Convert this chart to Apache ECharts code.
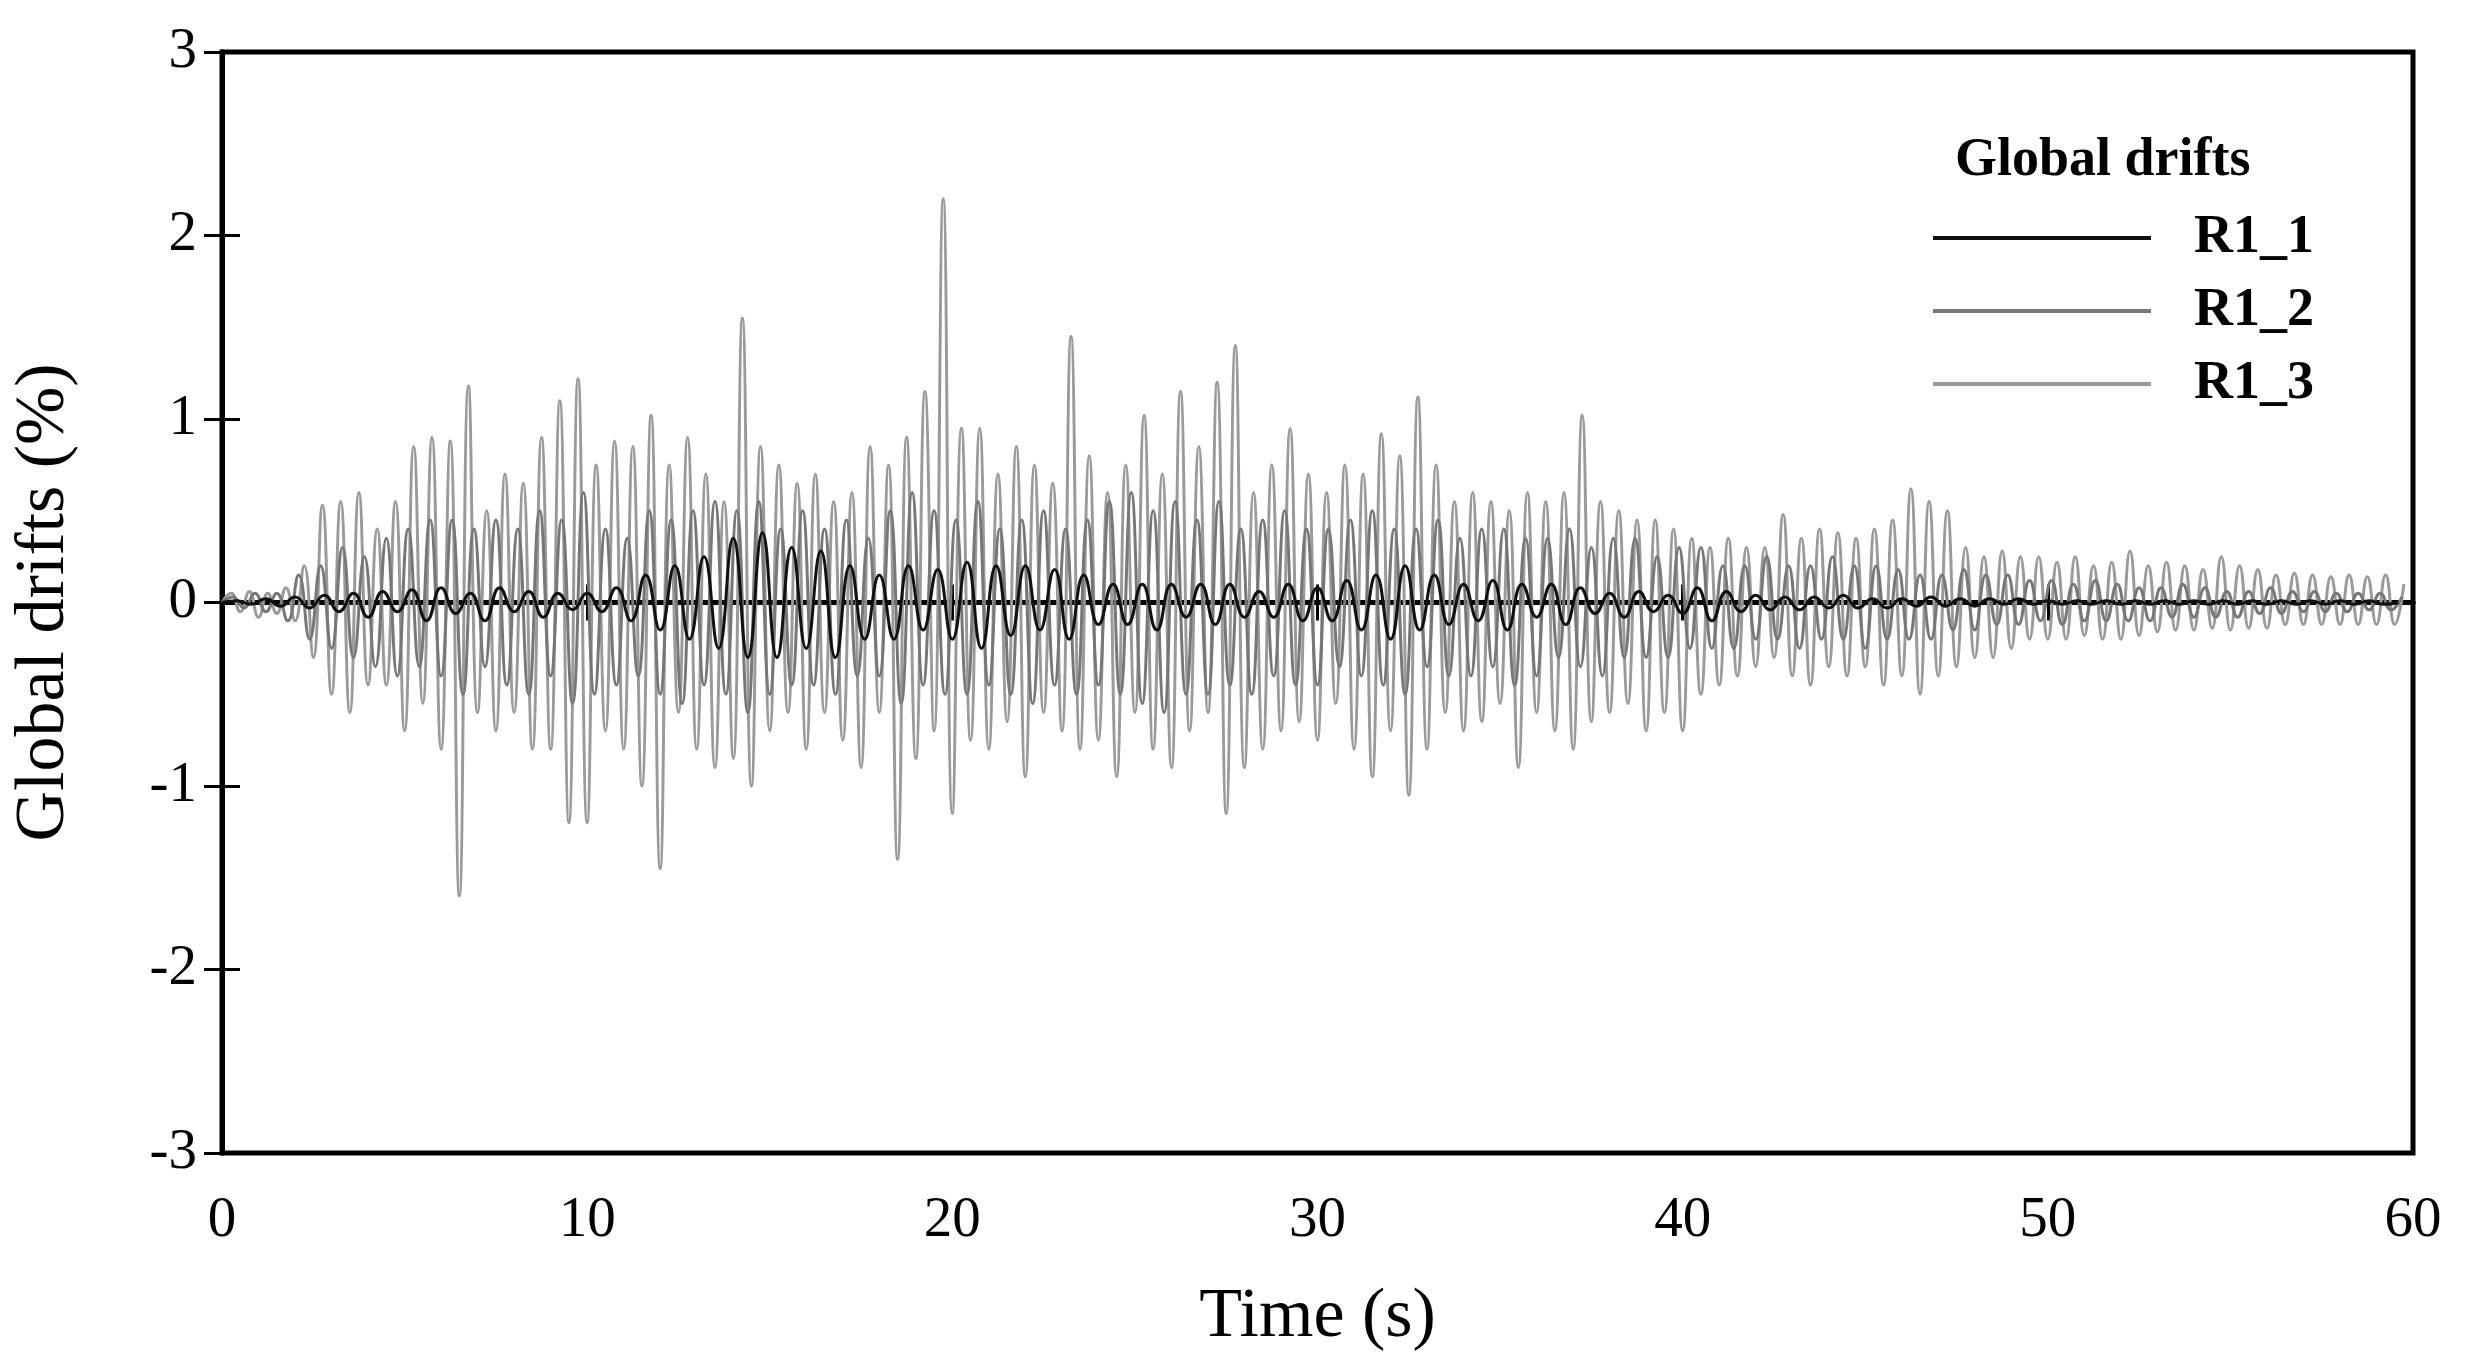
<!DOCTYPE html>
<html><head><meta charset="utf-8">
<script src="https://cdn.jsdelivr.net/npm/echarts@6/dist/echarts.min.js"></script>
<style>html,body{margin:0;padding:0;background:#fff}#c{width:2474px;height:1365px}</style>
</head><body><div id="c"></div>
<script>
const seriesNames = ['R1_1','R1_2','R1_3'];
const xTicks = [0,10,20,30,40,50,60];
const yTicks = [-3,-2,-1,0,1,2,3];
// sample spacing (s) of the read-off extremes
const dt1 = 0.4, dt2 = 0.3, dt3 = 0.25;
const r1_1 = [0,0.01,-0.01,0.02,-0.02,0.03,-0.03,0.04,-0.05,0.05,-0.08,0.06,-0.05,0.07,-0.1,0.08,-0.06,0.05,-0.1,0.08,-0.05,0.06,-0.08,0.05,-0.04,
0.05,-0.05,0.08,-0.1,0.15,-0.15,0.2,-0.2,0.25,-0.25,0.35,-0.3,0.38,-0.3,0.3,-0.25,0.28,-0.3,0.2,-0.2,0.15,-0.2,0.2,-0.15,0.18,
-0.2,0.22,-0.25,0.2,-0.18,0.2,-0.15,0.18,-0.2,0.15,-0.12,0.1,-0.12,0.1,-0.15,0.1,-0.08,0.1,-0.12,0.1,-0.08,0.06,-0.08,0.1,-0.1,
0.08,-0.1,0.12,-0.15,0.15,-0.2,0.2,-0.15,0.15,-0.12,0.1,-0.1,0.12,-0.15,0.1,-0.08,0.1,-0.12,0.08,-0.06,0.05,-0.08,0.06,-0.05,0.04,
-0.06,0.08,-0.1,0.06,-0.05,0.04,-0.04,0.03,-0.04,0.03,-0.03,0.04,-0.03,0.02,-0.03,0.02,-0.02,0.03,-0.02,0.02,-0.02,0.02,-0.01,0.02,-0.01,
0.01,-0.01,0.01,-0.01,0.01,-0.01,0.01,-0.01,0.01,-0.01,0.01,-0.01,0.01,-0.01,0.01,-0.01,0.01,-0.01,0.01,-0.01,0.01,-0.01,0.01,-0.01,0];
const r1_2 = [0,0.03,-0.03,0.05,-0.05,0.05,-0.1,0.15,-0.2,0.2,-0.25,0.3,-0.3,0.25,-0.35,0.35,-0.4,0.4,-0.35,0.45,
-0.4,0.45,-0.5,0.4,-0.35,0.45,-0.45,0.4,-0.5,0.5,-0.4,0.45,-0.55,0.6,-0.5,0.4,-0.45,0.35,-0.4,0.5,
-0.5,0.45,-0.55,0.5,-0.45,0.55,-0.5,0.5,-0.6,0.55,-0.5,0.4,-0.45,0.5,-0.45,0.4,-0.5,0.45,-0.4,0.35,
-0.4,0.5,-0.55,0.6,-0.45,0.5,-0.5,0.45,-0.5,0.55,-0.45,0.4,-0.5,0.45,-0.55,0.5,-0.45,0.4,-0.5,0.45,
-0.45,0.55,-0.5,0.6,-0.55,0.5,-0.6,0.55,-0.5,0.45,-0.5,0.55,-0.45,0.4,-0.5,0.45,-0.4,0.5,-0.45,0.4,
-0.45,0.4,-0.35,0.45,-0.4,0.5,-0.45,0.4,-0.5,0.4,-0.35,0.45,-0.4,0.35,-0.4,0.4,-0.35,0.4,-0.45,0.35,
-0.4,0.35,-0.3,0.4,-0.35,0.3,-0.4,0.35,-0.3,0.35,-0.3,0.25,-0.3,0.3,-0.25,0.3,-0.25,0.2,-0.25,0.2,
-0.2,0.25,-0.2,0.2,-0.25,0.2,-0.2,0.25,-0.2,0.2,-0.25,0.2,-0.2,0.18,-0.2,0.15,-0.2,0.15,-0.15,0.18,
-0.15,0.15,-0.12,0.15,-0.12,0.12,-0.1,0.12,-0.12,0.1,-0.1,0.12,-0.1,0.1,-0.1,0.08,-0.1,0.08,-0.08,0.1,
-0.08,0.08,-0.08,0.06,-0.08,0.06,-0.06,0.08,-0.06,0.06,-0.05,0.06,-0.05,0.05,-0.05,0.05,-0.04,0.05,-0.04,0.03];
const r1_3 = [0,0.05,-0.05,0.06,-0.08,0.05,-0.06,0.08,-0.1,0.2,-0.3,0.53,-0.5,0.55,-0.6,0.6,-0.45,0.4,-0.45,0.55,
-0.7,0.85,-0.55,0.9,-0.8,0.88,-1.6,1.18,-0.6,0.5,-0.7,0.7,-0.6,0.65,-0.8,0.9,-0.8,1.1,-1.2,1.22,
-1.2,0.75,-0.7,0.88,-0.8,0.85,-1.0,1.02,-1.45,0.75,-0.6,0.9,-0.8,0.7,-0.9,0.55,-0.85,1.55,-1.0,0.85,
-0.7,0.75,-0.6,0.65,-0.8,0.7,-0.6,0.55,-0.75,0.6,-0.9,0.85,-0.6,0.75,-1.4,0.9,-0.85,1.15,-0.7,2.2,
-1.15,0.95,-0.75,0.95,-0.8,0.7,-0.65,0.85,-0.95,0.75,-0.6,0.65,-0.7,1.45,-0.8,0.8,-0.75,0.6,-0.95,0.75,
-0.6,1.02,-0.8,0.7,-0.9,1.15,-0.7,0.85,-0.6,1.2,-1.15,1.4,-0.9,0.6,-0.8,0.75,-0.7,0.95,-0.65,0.7,
-0.75,0.6,-0.55,0.75,-0.8,0.7,-0.95,0.92,-0.7,0.8,-1.05,1.12,-0.8,0.75,-0.6,0.55,-0.7,0.6,-0.65,0.55,
-0.55,0.5,-0.9,0.6,-0.6,0.55,-0.7,0.6,-0.8,1.02,-0.65,0.55,-0.6,0.5,-0.55,0.45,-0.7,0.45,-0.6,0.4,
-0.7,0.35,-0.5,0.3,-0.45,0.35,-0.4,0.3,-0.35,0.3,-0.3,0.48,-0.4,0.35,-0.45,0.4,-0.35,0.38,-0.4,0.35,
-0.35,0.4,-0.45,0.45,-0.4,0.62,-0.5,0.55,-0.4,0.5,-0.35,0.3,-0.3,0.25,-0.3,0.28,-0.25,0.25,-0.2,0.25,
-0.2,0.22,-0.2,0.25,-0.18,0.2,-0.2,0.22,-0.2,0.28,-0.18,0.2,-0.16,0.22,-0.15,0.2,-0.15,0.18,-0.14,0.25,
-0.15,0.2,-0.14,0.18,-0.14,0.15,-0.12,0.16,-0.12,0.15,-0.12,0.14,-0.12,0.15,-0.12,0.14,-0.12,0.15,-0.12,0.1];
const pairs = (arr, dt) => arr.map((v, i) => [+(i * dt).toFixed(3), v]);
const font = 'Liberation Serif';
const ch = echarts.init(document.getElementById('c'));
const line = { show: true, lineStyle: { color: '#000', width: 5 } };
const tick = { show: true, inside: true, length: 18, lineStyle: { color: '#000', width: 3 } };
ch.setOption({
  animation: false,
  backgroundColor: '#fff',
  grid: { left: 222, right: 61, top: 52, bottom: 212, show: true, borderColor: '#000', borderWidth: 5, backgroundColor: 'transparent' },
  legend: {
    data: seriesNames, orient: 'vertical', left: 1928, top: 206, itemGap: 19,
    itemWidth: 218, itemHeight: 4, icon: 'rect',
    textStyle: { fontFamily: font, fontWeight: 'bold', fontSize: 54, color: '#000', padding: [0, 0, 0, 38] }
  },
  graphic: [{ type: 'text', left: 1955, top: 134, style: { text: 'Global drifts', font: 'bold 54px "Liberation Serif"', fill: '#000' } }],
  xAxis: [
    { type: 'value', min: 0, max: 60, interval: 10, position: 'bottom', name: 'Time (s)', nameLocation: 'middle', nameGap: 130,
      nameTextStyle: { fontFamily: font, fontSize: 70, color: '#000' },
      axisLabel: { fontFamily: font, fontSize: 57, color: '#000', margin: 40 },
      axisLine: line, axisTick: tick, splitLine: { show: false } },
    { type: 'value', min: 0, max: 60, interval: 10, position: 'top', axisLabel: { show: false },
      axisLine: line, axisTick: tick, splitLine: { show: false } }
  ],
  yAxis: [
    { type: 'value', min: -3, max: 3, interval: 1, position: 'left', name: 'Global drifts (%)', nameLocation: 'middle', nameGap: 142,
      nameTextStyle: { fontFamily: font, fontSize: 70, color: '#000' },
      axisLabel: { fontFamily: font, fontSize: 57, color: '#000', margin: 25 },
      axisLine: line, axisTick: tick, splitLine: { show: false } },
    { type: 'value', min: -3, max: 3, interval: 1, position: 'right', axisLabel: { show: false },
      axisLine: line, axisTick: tick, splitLine: { show: false } }
  ],
  series: [
    { name: 'R1_3', type: 'line', data: pairs(r1_3, dt3), smooth: 0.5, showSymbol: false, lineStyle: { color: '#9a9a9a', width: 3 }, itemStyle: { color: '#9a9a9a' }, z: 1 },
    { name: 'R1_2', type: 'line', data: pairs(r1_2, dt2), smooth: 0.5, showSymbol: false, lineStyle: { color: '#777', width: 3 }, itemStyle: { color: '#777' }, z: 2 },
    { name: 'R1_1', type: 'line', data: pairs(r1_1, dt1), smooth: 0.5, showSymbol: false, lineStyle: { color: '#111', width: 3 }, itemStyle: { color: '#111' }, z: 3 }
  ]
});
</script></body></html>
